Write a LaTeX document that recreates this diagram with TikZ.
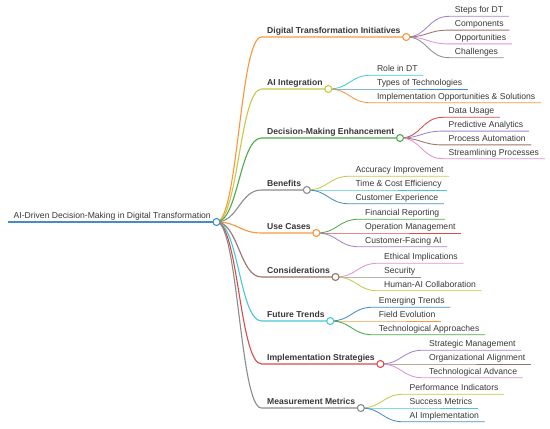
\documentclass[tikz,border=0pt]{standalone}
\usepackage{fontspec}
\setmainfont{Liberation Sans}
\usepackage{xcolor}
\usetikzlibrary{calc}
\definecolor{ink}{RGB}{55,55,55}
\definecolor{cblue}{RGB}{70,140,196}
\definecolor{corange}{RGB}{250,150,60}
\definecolor{cgreen}{RGB}{75,170,75}
\definecolor{cred}{RGB}{215,75,75}
\definecolor{cpurple}{RGB}{165,130,205}
\definecolor{cbrown}{RGB}{155,115,105}
\definecolor{cpink}{RGB}{228,145,210}
\definecolor{cgray}{RGB}{140,140,140}
\definecolor{colive}{RGB}{200,200,70}
\definecolor{ccyan}{RGB}{70,200,215}
\tikzset{
  mm/.style={anchor=south west, inner xsep=5.5pt, inner ysep=3.2pt,
             text depth=0pt, text=ink, font=\fontsize{8.6}{10}\selectfont},
  mmbold/.style={mm, font=\fontsize{8.6}{10}\selectfont\bfseries},
  rootline/.style={line width=1.4pt},
  midline/.style={line width=1.1pt},
  leafline/.style={line width=0.85pt},
  knob/.style={fill=white, line width=1.1pt},
}
% leaves of one branch: parent, list of name/offset/colour/text
\newcommand{\mmleaves}[2]{%
  \foreach \nm/\dy/\col/\txt in {#2}{%
    \node[mm] (\nm) at ($(#1.south east)+(43,\dy)$) {\txt};
    \draw[leafline, color=\col] (#1.south east) .. controls +(21.5,0) and +(-21.5,0) .. (\nm.south west) -- (\nm.south east);
  }}
\newcommand{\mmlink}[3]{%
  \draw[midline, color=#3] (#1.south east) .. controls +(21.75,0) and +(-21.75,0) .. (#2.south west) -- (#2.south east);}

\begin{document}
\begin{tikzpicture}[x=1pt, y=-1pt]
  \useasboundingbox (0,0) rectangle (550,429);

  \node[mm] (root) at (8,222) {AI-Driven Decision-Making in Digital Transformation};
  \draw[rootline, cblue] (root.south west) -- (root.south east);

  \node[mmbold] (dti) at (261.5,37) {Digital Transformation Initiatives};
  \node[mmbold] (aiint) at (261.5,89) {AI Integration};
  \node[mmbold] (dme) at (261.5,138) {Decision-Making Enhancement};
  \node[mmbold] (bene) at (261.5,190) {Benefits};
  \node[mmbold] (usec) at (261.5,233) {Use Cases};
  \node[mmbold] (consi) at (261.5,277) {Considerations};
  \node[mmbold] (futr) at (261.5,321) {Future Trends};
  \node[mmbold] (impl) at (261.5,364) {Implementation Strategies};
  \node[mmbold] (meas) at (261.5,408) {Measurement Metrics};

  \mmlink{root}{dti}{corange}
  \mmlink{root}{aiint}{colive}
  \mmlink{root}{dme}{cgreen}
  \mmlink{root}{bene}{cgray}
  \mmlink{root}{usec}{corange}
  \mmlink{root}{consi}{cbrown}
  \mmlink{root}{futr}{ccyan}
  \mmlink{root}{impl}{cred}
  \mmlink{root}{meas}{cgray}

  \mmleaves{dti}{dtiA/-20.7/cpurple/Steps for DT, dtiB/-6.9/cbrown/Components,
    dtiC/6.9/cpink/Opportunities, dtiD/20.7/cgray/Challenges}
  \mmleaves{aiint}{aiA/-13.8/ccyan/Role in DT, aiB/0/cblue/Types of Technologies,
    aiC/13.8/corange/Implementation Opportunities \& Solutions}
  \mmleaves{dme}{dmeA/-20.7/cred/Data Usage, dmeB/-6.9/cpurple/Predictive Analytics,
    dmeC/6.9/cbrown/Process Automation, dmeD/20.7/cpink/Streamlining Processes}
  \mmleaves{bene}{beA/-13.8/colive/Accuracy Improvement, beB/0/ccyan/Time \& Cost Efficiency,
    beC/13.8/cblue/Customer Experience}
  \mmleaves{usec}{ucA/-13.8/cgreen/Financial Reporting, ucB/0/cred/Operation Management,
    ucC/13.8/cpurple/Customer-Facing AI}
  \mmleaves{consi}{coA/-13.8/cpink/Ethical Implications, coB/0/cgray/Security,
    coC/13.8/colive/Human-AI Collaboration}
  \mmleaves{futr}{ftA/-13.8/cblue/Emerging Trends, ftB/0/corange/Field Evolution,
    ftC/13.8/cgreen/Technological Approaches}
  \mmleaves{impl}{imA/-13.8/cpurple/Strategic Management, imB/0/cbrown/Organizational Alignment,
    imC/13.8/cpink/Technological Advance}
  \mmleaves{meas}{meA/-13.8/colive/Performance Indicators, meB/0/ccyan/Success Metrics,
    meC/13.8/cblue/AI Implementation}

  % open circles on top
  \foreach \p/\col in {root/cblue, dti/corange, aiint/colive, dme/cgreen, bene/cgray,
      usec/corange, consi/cbrown, futr/ccyan, impl/cred, meas/cgray}
    \draw[knob, draw=\col] (\p.south east) circle (3.5pt);
\end{tikzpicture}
\end{document}
